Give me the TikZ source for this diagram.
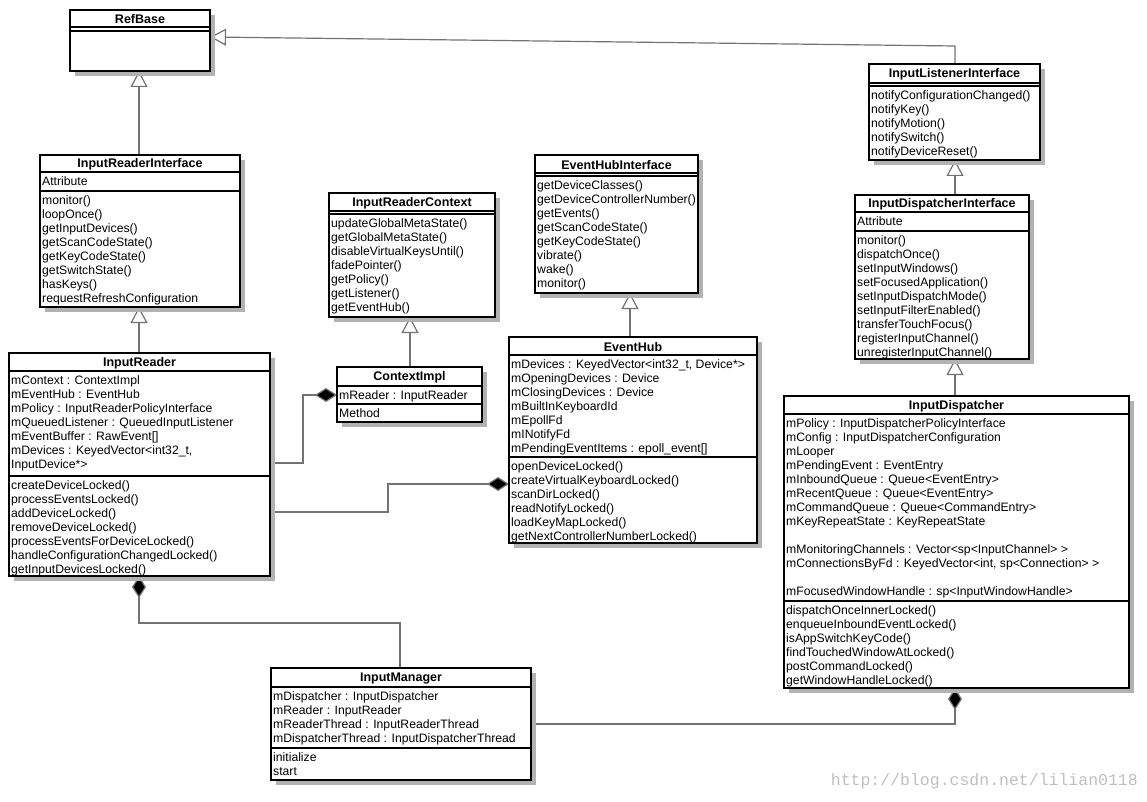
\documentclass[tikz,border=0pt]{standalone}
\usepackage{fontspec}
\setmainfont{Liberation Sans}
\newfontfamily\wmfont{Liberation Mono}
\usetikzlibrary{fit,arrows.meta}
\begin{document}
\begin{tikzpicture}[x=1pt,y=-1pt,
  box/.style={draw=black,line width=1.4pt,fill=white,inner sep=0pt},
  shadow/.style={fill=black!30},
  sep/.style={line width=1.2pt},
  txt/.style={anchor=north west,inner sep=0pt,align=left,font=\fontsize{12.2}{14}\selectfont},
  ttl/.style={inner sep=0pt,font=\fontsize{12.5}{12}\selectfont\bfseries},
  conn/.style={draw=black!55,line width=1.2pt},
  inh/.style={conn,-{Triangle[open,fill=white,length=16pt,width=17pt]}},
  comp/.style={conn,{Diamond[fill=black,length=22pt,width=14pt]}-}]
\useasboundingbox (0,0) rectangle (1147,802);
\newcommand\umlbox[7]{%
  \fill[shadow] (#2+5,#3+5) rectangle (#4+5,#5+5);
  \node[box,fit={(#2,#3)(#4,#5)}] (#1) {};
  \node[ttl] at ({(#2+#4)/2},{(#3+#7)/2+1}) {#6};
  \draw[sep] (#2,#7) -- (#4,#7);}
\newcommand\sepl[3]{\draw[sep] (#1,#3) -- (#2,#3);}
\newcommand\comptext[3]{\node[txt] at (#1+2,#2+4) {#3};}

% connectors
\coordinate (c1) at (955,46);
\draw[inh] (955,64) -- (c1) -- (210,37);
\draw[inh] (139,155) -- (139,71);
\draw[inh] (139,353) -- (139,307);
\draw[inh] (410,367) -- (410,317);
\draw[inh] (630,337) -- (630,293);
\draw[inh] (955,195) -- (955,160);
\draw[inh] (955,396) -- (955,359);
\draw[comp] (337,395) -- (303,395) -- (303,463) -- (270,463);
\draw[comp] (509,484) -- (388,484) -- (388,512) -- (270,512);
\draw[comp] (139,576) -- (139,623) -- (400,623) -- (400,668);
\draw[comp] (955,688) -- (955,724) -- (531,724);

\umlbox{refbase}{70}{10}{210}{71}{RefBase}{27}
\sepl{70}{210}{31}

\umlbox{iri}{40}{155}{240}{307}{InputReaderInterface}{172}
\sepl{40}{240}{191}
\comptext{40}{172}{Attribute}
\comptext{40}{191}{monitor()\\loopOnce()\\getInputDevices()\\getScanCodeState()\\getKeyCodeState()\\getSwitchState()\\hasKeys()\\requestRefreshConfiguration}

\umlbox{irc}{329}{193}{495}{317}{InputReaderContext}{211}
\sepl{329}{495}{214}
\comptext{329}{214}{updateGlobalMetaState()\\getGlobalMetaState()\\disableVirtualKeysUntil()\\fadePointer()\\getPolicy()\\getListener()\\getEventHub()}

\umlbox{ehi}{535}{155}{698}{293}{EventHubInterface}{173}
\sepl{535}{698}{176}
\comptext{535}{176}{getDeviceClasses()\\getDeviceControllerNumber()\\getEvents()\\getScanCodeState()\\getKeyCodeState()\\vibrate()\\wake()\\monitor()}

\umlbox{ili}{869}{64}{1040}{160}{InputListenerInterface}{83}
\sepl{869}{1040}{86}
\comptext{869}{86}{notifyConfigurationChanged()\\notifyKey()\\notifyMotion()\\notifySwitch()\\notifyDeviceReset()}

\umlbox{idi}{855}{195}{1029}{359}{InputDispatcherInterface}{212}
\sepl{855}{1029}{231}
\comptext{855}{212}{Attribute}
\comptext{855}{231}{monitor()\\dispatchOnce()\\setInputWindows()\\setFocusedApplication()\\setInputDispatchMode()\\setInputFilterEnabled()\\transferTouchFocus()\\registerInputChannel()\\unregisterInputChannel()}

\umlbox{ir}{9}{353}{270}{576}{InputReader}{371}
\sepl{9}{270}{476}
\comptext{9}{371}{mContext : ContextImpl\\mEventHub : EventHub\\mPolicy : InputReaderPolicyInterface\\mQueuedListener : QueuedInputListener\\mEventBuffer : RawEvent[]\\mDevices : KeyedVector<int32\_t,\\InputDevice*>}
\comptext{9}{476}{createDeviceLocked()\\processEventsLocked()\\addDeviceLocked()\\removeDeviceLocked()\\processEventsForDeviceLocked()\\handleConfigurationChangedLocked()\\getInputDevicesLocked()}

\umlbox{ci}{337}{367}{482}{422}{ContextImpl}{386}
\sepl{337}{482}{404}
\comptext{337}{386}{mReader : InputReader}
\comptext{337}{404}{Method}

\umlbox{eh}{509}{337}{757}{543}{EventHub}{355}
\sepl{509}{757}{457}
\comptext{509}{355}{mDevices : KeyedVector<int32\_t, Device*>\\mOpeningDevices : Device\\mClosingDevices : Device\\mBuiltInKeyboardId\\mEpollFd\\mINotifyFd\\mPendingEventItems : epoll\_event[]}
\comptext{509}{457}{openDeviceLocked()\\createVirtualKeyboardLocked()\\scanDirLocked()\\readNotifyLocked()\\loadKeyMapLocked()\\getNextControllerNumberLocked()}

\umlbox{id}{784}{396}{1129}{688}{InputDispatcher}{414}
\sepl{784}{1129}{601}
\comptext{784}{414}{mPolicy : InputDispatcherPolicyInterface\\mConfig : InputDispatcherConfiguration\\mLooper\\mPendingEvent : EventEntry\\mInboundQueue : Queue<EventEntry>\\mRecentQueue : Queue<EventEntry>\\mCommandQueue : Queue<CommandEntry>\\mKeyRepeatState : KeyRepeatState\\~\\mMonitoringChannels : Vector<sp<InputChannel> >\\mConnectionsByFd : KeyedVector<int, sp<Connection> >\\~\\mFocusedWindowHandle : sp<InputWindowHandle>}
\comptext{784}{601}{dispatchOnceInnerLocked()\\enqueueInboundEventLocked()\\isAppSwitchKeyCode()\\findTouchedWindowAtLocked()\\postCommandLocked()\\getWindowHandleLocked()}

\umlbox{im}{271}{668}{531}{780}{InputManager}{687}
\sepl{271}{531}{748}
\comptext{271}{687}{mDispatcher : InputDispatcher\\mReader : InputReader\\mReaderThread : InputReaderThread\\mDispatcherThread : InputDispatcherThread}
\comptext{271}{748}{initialize\\start}

\node[anchor=east,inner sep=0pt,text=black!25,font=\wmfont\fontsize{16.5}{16}\selectfont] (wm) at (1138,781) {http://blog.csdn.net/lilian0118};
\end{tikzpicture}
\end{document}
